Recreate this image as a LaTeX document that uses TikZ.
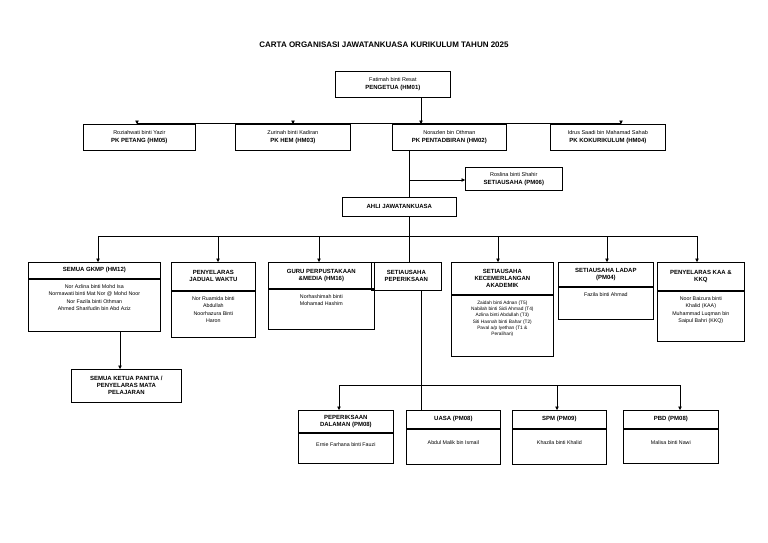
\documentclass[tikz,border=0pt]{standalone}
\usepackage{fontspec}
\setmainfont{Liberation Sans}
\usetikzlibrary{arrows.meta}
\begin{document}
\begin{tikzpicture}[x=1pt,y=-1pt,
 bx/.style={draw,line width=0.7pt,inner sep=1pt,anchor=north west,align=center,font=\fontsize{6}{7}\selectfont\bfseries},
 tx/.style={anchor=north,align=center,inner sep=0pt,font=\fontsize{5.3}{7.2}\selectfont},
 ln/.style={line width=0.6pt},
 ar/.style={line width=0.6pt,-{Triangle[length=3.5pt,width=3.5pt]}}]
\useasboundingbox[fill=white] (0,0) rectangle (768,543);
\node[font=\fontsize{8}{9}\selectfont\bfseries] (title) at (384,45) {CARTA ORGANISASI JAWATANKUASA KURIKULUM TAHUN 2025};
% level 1
\node[bx,minimum width=115pt,minimum height=26pt,font=\fontsize{5.5}{8}\selectfont] (peng) at (335,71) {Fatimah binti Resat\\\textbf{\fontsize{6}{8}\selectfont PENGETUA (HM01)}};
% level 2
\node[bx,minimum width=112pt,minimum height=26pt,font=\fontsize{5.5}{8}\selectfont] (pet) at (83,124) {Roziahwati binti Yazir\\\textbf{\fontsize{6}{8}\selectfont PK PETANG (HM05)}};
\node[bx,minimum width=115pt,minimum height=26pt,font=\fontsize{5.5}{8}\selectfont] (hem) at (235,124) {Zurinah binti Kadiran\\\textbf{\fontsize{6}{8}\selectfont PK HEM (HM03)}};
\node[bx,minimum width=114pt,minimum height=26pt,font=\fontsize{5.5}{8}\selectfont] (pen) at (392,124) {Norazlen bin Othman\\\textbf{\fontsize{6}{8}\selectfont PK PENTADBIRAN (HM02)}};
\node[bx,minimum width=115pt,minimum height=26pt,font=\fontsize{5.5}{8}\selectfont] (kok) at (550,124) {Idrus Saadi bin Mahamad Sahab\\\textbf{\fontsize{6}{8}\selectfont PK KOKURIKULUM (HM04)}};
\node[bx,minimum width=97pt,minimum height=23pt,font=\fontsize{5.5}{8}\selectfont] (sua) at (465,167) {Roslina binti Shahir\\\textbf{\fontsize{6}{8}\selectfont SETIAUSAHA (PM06)}};
\node[bx,minimum width=114pt,minimum height=19pt] (ahli) at (342,197) {AHLI JAWATANKUASA};
% level 3 headers
\node[bx,minimum width=132pt,minimum height=16pt] (gk) at (28,262) {SEMUA GKMP (HM12)};
\node[bx,minimum width=84pt,minimum height=28pt] (jw) at (171,262) {PENYELARAS\\JADUAL WAKTU};
\node[bx,minimum width=106pt,minimum height=26pt] (gp) at (268,262) {GURU PERPUSTAKAAN\\\&MEDIA (HM16)};
\node[bx,minimum width=70pt,minimum height=28pt] (sp) at (371,262) {SETIAUSAHA\\PEPERIKSAAN};
\node[bx,minimum width=102pt,minimum height=32pt] (ka) at (451,262) {SETIAUSAHA\\KECEMERLANGAN\\AKADEMIK};
\node[bx,minimum width=95pt,minimum height=24pt] (ld) at (558,262) {SETIAUSAHA LADAP\\(PM04)};
\node[bx,minimum width=87pt,minimum height=28pt] (kq) at (657,262) {PENYELARAS KAA \&\\KKQ};
% bodies
\node[bx,minimum width=132pt,minimum height=52pt] (gkb) at (gk.south west) {};
\node[tx] at ([yshift=-6pt]gkb.north) {Nor Azlina binti Mohd Isa\\Normawati binti Mat Nor @ Mohd Noor\\Nor Fazila binti Othman\\Ahmed Sharifudin bin Abd Aziz};
\node[bx,minimum width=84pt,minimum height=46pt] (jwb) at (jw.south west) {};
\node[tx] at ([yshift=-6pt]jwb.north) {Nor Ruamida binti\\Abdullah\\Noorhazura Binti\\Haron};
\node[bx,minimum width=106pt,minimum height=40pt] (gpb) at (gp.south west) {};
\node[tx] at ([yshift=-6pt]gpb.north) {Norhashimah binti\\Mohamad Hashim};
\node[bx,minimum width=102pt,minimum height=61pt] (kab) at (ka.south west) {};
\node[tx,font=\fontsize{4.8}{6.3}\selectfont] at ([yshift=-6pt]kab.north) {Zaidah binti Adnan (T5)\\Nabilah binti Sidi Ahmad (T4)\\Azlina binti Abdullah (T3)\\Siti Hasnah binti Bahar (T2)\\Paval a/p Iyethan (T1 \&\\Peralihan)};
\node[bx,minimum width=95pt,minimum height=32pt] (ldb) at (ld.south west) {};
\node[tx] at ([yshift=-6pt]ldb.north) {Fazila binti Ahmad};
\node[bx,minimum width=87pt,minimum height=50pt] (kqb) at (kq.south west) {};
\node[tx] at ([yshift=-6pt]kqb.north) {Noor Baizura binti\\Khalid (KAA)\\Muhammad Luqman bin\\Saipul Bahri (KKQ)};
\node[bx,minimum width=110pt,minimum height=33pt] (kp) at (71,369) {SEMUA KETUA PANITIA /\\PENYELARAS MATA\\PELAJARAN};
% level 4
\node[bx,minimum width=95pt,minimum height=22pt] (pd) at (298,410) {PEPERIKSAAN\\DALAMAN (PM08)};
\node[bx,minimum width=95pt,minimum height=30pt] (pdb) at (pd.south west) {};
\node[tx] at ([yshift=-10pt]pdb.north) {Ernie Farhana binti Fauzi};
\node[bx,minimum width=94pt,minimum height=18pt] (ua) at (406,410) {UASA (PM08)};
\node[bx,minimum width=94pt,minimum height=35pt] (uab) at (ua.south west) {};
\node[tx] at ([yshift=-12pt]uab.north) {Abdul Malik bin Ismail};
\node[bx,minimum width=94pt,minimum height=18pt] (sm) at (512,410) {SPM (PM09)};
\node[bx,minimum width=94pt,minimum height=35pt] (smb) at (sm.south west) {};
\node[tx] at ([yshift=-12pt]smb.north) {Khazila binti Khalid};
\node[bx,minimum width=95pt,minimum height=18pt] (pb) at (623,410) {PBD (PM08)};
\node[bx,minimum width=95pt,minimum height=34pt] (pbb) at (pb.south west) {};
\node[tx] at ([yshift=-12pt]pbb.north) {Malisa binti Nawi};
% connectors
\coordinate (j1) at (421,123);
\draw[ln] (peng.south -| j1) -- (j1);
\draw[ln] (137,123) -- (621,123);
\draw[ar] (137,123) -- (pet.north -| 137,0);
\draw[ar] (293,123) -- (hem.north -| 293,0);
\draw[ar] (j1) -- (pen.north -| j1);
\draw[ar] (621,123) -- (kok.north -| 621,0);
\draw[ln] (pen.south -| 409,0) -- (ahli.north -| 409,0);
\draw[ar] (409,180) -- (sua.west |- 409,180);
\draw[ln] (ahli.south -| 409,0) -- (sp.north -| 409,0);
\draw[ln] (98,236) -- (697,236);
\draw[ar] (98,236) -- (gk.north -| 98,0);
\draw[ar] (218,236) -- (jw.north -| 218,0);
\draw[ar] (319,236) -- (gp.north -| 319,0);
\draw[ar] (498,236) -- (ka.north -| 498,0);
\draw[ar] (607,236) -- (ld.north -| 607,0);
\draw[ar] (697,236) -- (kq.north -| 697,0);
\draw[ar] (gkb.south -| 120,0) -- (kp.north -| 120,0);
\draw[ln] (sp.south -| 421,0) -- (ua.north -| 421,0);
\draw[ln] (339,385) -- (680,385);
\draw[ar] (339,385) -- (pd.north -| 339,0);
\draw[ar] (557,385) -- (sm.north -| 557,0);
\draw[ar] (680,385) -- (pb.north -| 680,0);
\end{tikzpicture}
\end{document}
